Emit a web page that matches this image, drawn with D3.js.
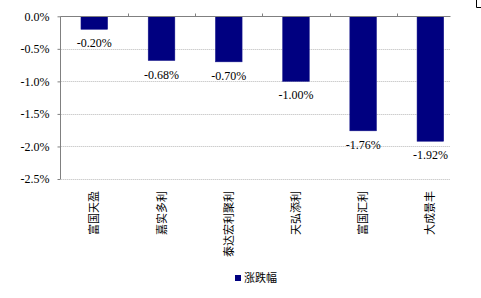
<!DOCTYPE html>
<html>
<head>
<meta charset="utf-8">
<script src="https://cdn.jsdelivr.net/npm/d3@7"></script>
<style>
  body { margin: 0; background: #fff; }
  svg { display: block; }
  .num { font-family: "Times New Roman", "Liberation Serif", "DejaVu Serif", serif; font-size: 12px; }
</style>
</head>
<body>
<div id="chart"></div>
<script>
// Data
const funds = ["富国天盈", "嘉实多利", "泰达宏利聚利", "天弘添利", "富国汇利", "大成景丰"];
const changes = [-0.20, -0.68, -0.70, -1.00, -1.76, -1.92];
const yTicks = [0, -0.5, -1.0, -1.5, -2.0, -2.5];
const seriesName = "涨跌幅";

const width = 481, height = 298;
const plot = { left: 60.7, right: 464, top: 16.3, bottom: 179, lineEnd: 450.5 };
const cjk = "'Noto Sans CJK SC', sans-serif";

// plain hyphen minus, like the original
const pct = (d, p) => d.toFixed(p).replace("\u2212", "-") + "%";

const svg = d3.select("#chart").append("svg")
  .attr("width", width)
  .attr("height", height);

const x = d3.scaleBand()
  .domain(funds)
  .range([plot.left, plot.right])
  .padding(0);

const y = d3.scaleLinear()
  .domain([0, -2.5])
  .range([plot.top, plot.bottom]);

const barW = x.bandwidth() * 0.397;

// Gridlines (dotted)
svg.append("g")
  .selectAll("line")
  .data(yTicks.filter(d => d !== 0))
  .join("line")
  .attr("x1", plot.left)
  .attr("x2", plot.lineEnd)
  .attr("y1", d => Math.round(y(d)) + 0.5)
  .attr("y2", d => Math.round(y(d)) + 0.5)
  .attr("stroke", "#b8b8b8")
  .attr("stroke-dasharray", "1,1");

// Bars
const data = funds.map((f, i) => ({ fund: f, value: changes[i] }));
svg.append("g")
  .selectAll("rect")
  .data(data)
  .join("rect")
  .attr("x", d => x(d.fund) + (x.bandwidth() - barW) / 2)
  .attr("y", y(0))
  .attr("width", barW)
  .attr("height", d => y(d.value) - y(0))
  .attr("fill", "#000080")
  .attr("stroke", "#1a1a8c")
  .attr("stroke-width", 0.5);

// Value labels under each bar
svg.append("g")
  .selectAll("text")
  .data(data)
  .join("text")
  .attr("class", "num")
  .attr("x", d => x(d.fund) + x.bandwidth() / 2)
  .attr("y", d => y(d.value) + 18)
  .attr("text-anchor", "middle")
  .attr("fill", "#000")
  .text(d => pct(d.value, 2));

// Left axis
const yAxis = svg.append("g")
  .attr("transform", `translate(${Math.round(plot.left) - 0.5},0)`)
  .call(d3.axisLeft(y).tickValues(yTicks).tickSize(3).tickPadding(8)
    .tickFormat(d => pct(d, 1)));
yAxis.attr("font-family", null).attr("font-size", null);
yAxis.select(".domain").attr("stroke", "#808080").attr("d", `M0,${plot.top}V${plot.bottom}`);
yAxis.selectAll(".tick line").attr("stroke", "#808080");
yAxis.selectAll("text")
  .attr("class", "num")
  .attr("fill", "#000");

// Top category axis (at zero)
const xAxis = svg.append("g")
  .attr("transform", `translate(0,${Math.round(y(0)) + 0.5})`);
xAxis.append("line")
  .attr("x1", plot.left)
  .attr("x2", plot.lineEnd)
  .attr("stroke", "#808080");
xAxis.selectAll(".sep")
  .data(funds.slice(1).filter(f => x(f) < plot.lineEnd))
  .join("line")
  .attr("class", "sep")
  .attr("x1", d => Math.round(x(d)) + 0.5)
  .attr("x2", d => Math.round(x(d)) + 0.5)
  .attr("y1", 0)
  .attr("y2", -3)
  .attr("stroke", "#808080");

// Category labels, rotated
svg.append("g")
  .selectAll("text")
  .data(funds)
  .join("text")
  .attr("transform", d => `translate(${x(d) + x.bandwidth() / 2 + 4},191) rotate(-90)`)
  .attr("text-anchor", "end")
  .style("font-family", cjk)
  .style("font-size", "11px")
  .attr("fill", "#000")
  .text(d => d);

// Legend
const legend = svg.append("g").attr("transform", "translate(235,275)");
legend.append("rect")
  .attr("width", 6)
  .attr("height", 6)
  .attr("fill", "#000080");
legend.append("text")
  .attr("x", 9)
  .attr("y", 7)
  .style("font-family", cjk)
  .style("font-size", "11px")
  .attr("fill", "#000")
  .text(seriesName);

// Little corner fragment at top right
svg.append("path")
  .attr("d", "M476.5,0V7.5H481")
  .attr("fill", "none")
  .attr("stroke", "#000");
</script>
</body>
</html>
